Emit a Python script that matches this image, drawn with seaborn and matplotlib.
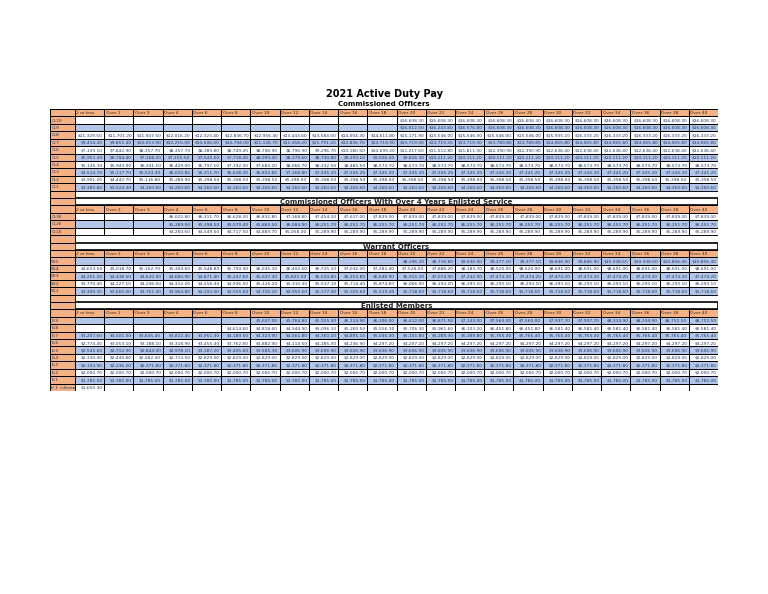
import numpy as np
import pandas as pd
import matplotlib
matplotlib.use("Agg")
import matplotlib.pyplot as plt
from matplotlib.colors import ListedColormap
from matplotlib.patches import Rectangle
import seaborn as sns

N = None
columns = ["2 or less", "Over 2", "Over 3", "Over 4", "Over 6", "Over 8", "Over 10", "Over 12",
           "Over 14", "Over 16", "Over 18", "Over 20", "Over 22", "Over 24", "Over 26", "Over 28",
           "Over 30", "Over 32", "Over 34", "Over 36", "Over 38", "Over 40"]

officer_grades = ["O-10", "O-9", "O-8", "O-7", "O-6", "O-5", "O-4", "O-3", "O-2", "O-1"]
officer_pay = [
    [N]*11 + [16608.30]*11,
    [N]*11 + [16012.50, 16243.80, 16576.80] + [16608.30]*8,
    [11329.50, 11701.20, 11947.50, 12016.20, 12323.40, 12836.70, 12956.40, 13443.60, 13584.00, 14004.30,
     14611.80, 15171.90, 15546.00, 15546.00, 15546.00, 15546.00, 15935.10] + [16333.20]*5,
    [9414.30, 9851.40, 10053.90, 10215.00, 10506.00, 10794.00, 11126.70, 11458.20, 11791.20, 12836.70]
    + [13719.30]*4 + [13789.80]*2 + [14065.80]*6,
    [7139.10, 7842.90, 8357.70, 8357.70, 8389.80, 8749.20, 8796.90, 8796.90, 9296.70, 10180.50, 10699.20,
     11217.60, 11512.80, 11811.90, 12390.90, 12390.90] + [12638.40]*6,
    [5951.40, 6704.40, 7168.20, 7255.50, 7545.60, 7718.40, 8099.40, 8379.60, 8740.80, 9293.10, 9556.20,
     9816.30] + [10111.20]*10,
    [5135.10, 5943.90, 6341.10, 6429.00, 6797.10, 7192.20, 7684.20, 8066.70, 8332.50, 8485.50] + [8573.70]*12,
    [4514.70, 5117.70, 5523.30, 6022.80, 6311.70, 6628.20, 6832.80, 7168.80] + [7345.20]*14,
    [3901.20, 4442.70, 5116.80, 5289.90] + [5398.50]*18,
    [3385.80, 3524.40] + [4260.60]*20,
]

prior_grades = ["O-3E", "O-2E", "O-1E"]
prior_pay = [
    [N]*3 + [6022.80, 6311.70, 6628.20, 6832.80, 7168.80, 7454.10, 7617.00] + [7839.00]*12,
    [N]*3 + [5289.90, 5398.50, 5570.40, 5860.50, 6084.90] + [6251.70]*14,
    [N]*3 + [4260.60, 4549.50, 4717.50, 4889.70, 5058.30] + [5289.90]*14,
]

warrant_grades = ["W-5", "W-4", "W-3", "W-2", "W-1"]
warrant_pay = [
    [N]*11 + [8296.20, 8716.80, 9030.90, 9377.10, 9377.10, 9846.90, 9846.90, 10338.60, 10338.60, 10856.40, 10856.40],
    [4653.50, 5018.70, 5162.70, 5304.60, 5548.80, 5790.30, 6035.10, 6402.60, 6725.10, 7032.00, 7283.40,
     7528.50, 7888.20, 8183.70, 8520.00, 8520.00] + [8691.00]*6,
    [4261.20, 4438.50, 4620.90, 4680.90, 4871.40, 5247.60, 5637.30, 5821.50, 6034.80, 6253.80, 6648.90,
     6915.30, 7074.90, 7242.90] + [7474.20]*8,
    [3770.40, 4127.10, 4236.60, 4312.20, 4556.40, 4936.50, 5125.20, 5310.30, 5537.10, 5714.40, 5874.60,
     6066.90, 6193.20] + [6293.10]*9,
    [3309.30, 3666.00, 3761.40, 3964.80, 4203.00, 4555.80, 4720.20, 4950.60, 5177.40, 5355.60, 5519.40]
    + [5718.60]*11,
]

enlisted_grades = ["E-9", "E-8", "E-7", "E-6", "E-5", "E-4", "E-3", "E-2", "E-1", "E-1 <4mon"]
enlisted_pay = [
    [N]*6 + [5637.00, 5764.80, 5925.90, 6114.90, 6306.00, 6612.00, 6871.50, 7143.00, 7560.00, 7560.00,
             7937.70, 7937.70, 8334.90, 8334.90, 8752.50, 8752.50],
    [N]*5 + [4614.60, 4818.60, 4944.90, 5096.10, 5260.50, 5556.30, 5706.30, 5961.60, 6103.20, 6451.80,
             6451.80] + [6581.40]*6,
    [3207.60, 3501.00, 3635.40, 3812.40, 3951.30, 4189.50, 4323.90, 4561.80, 4760.10, 4895.10, 5046.00,
     5101.80, 5289.30, 5389.80] + [5765.40]*8,
    [2774.40, 3053.10, 3188.10, 3318.90, 3455.40, 3762.60, 3882.90, 4114.50, 4185.30, 4236.90] + [4297.20]*12,
    [2541.60, 2712.90, 2844.00, 2978.10, 3187.20, 3405.60, 3585.30] + [3606.90]*15,
    [2330.40, 2449.80, 2582.40, 2713.50] + [2829.00]*18,
    [2103.90, 2236.20] + [2371.80]*20,
    [2000.70]*22,
    [1785.00]*22,
    [1650.30] + [N]*21,
]

sections = [
    (None, officer_grades, officer_pay),
    ("Commissioned Officers With Over 4 Years Enlisted Service", prior_grades, prior_pay),
    ("Warrant Officers", warrant_grades, warrant_pay),
    ("Enlisted Members", enlisted_grades, enlisted_pay),
]

# build row layout: kind in header / data / blank / title
rows = []
for i, (title, grades, pay) in enumerate(sections):
    if title is not None:
        rows.append(("blank", "", None))
        rows.append(("title", title, None))
    rows.append(("header", "", columns))
    for j, (g, vals) in enumerate(zip(grades, pay)):
        stripe = 1 if (j % 2 == 1) else 0
        if title == "Enlisted Members" or title == "Warrant Officers":
            stripe = 1 - stripe
        rows.append(("data", g, (vals, stripe)))

nr, nc = len(rows), len(columns)
codes = np.zeros((nr, nc))
for r, (kind, lab, payload) in enumerate(rows):
    if kind == "header":
        codes[r, :] = 2
    elif kind == "data":
        codes[r, :] = payload[1]

orange = "#f4b183"
blue = "#b4c6e7"
cmap = ListedColormap(["white", blue, orange])
text_col = "#1f3864"

fig = plt.figure(figsize=(7.68, 5.94), dpi=100)
y0, y1 = 1 - 391 / 594, 1 - 109 / 594
ax_lab = fig.add_axes([50 / 768, y0, 25 / 768, y1 - y0])
ax = fig.add_axes([75 / 768, y0, 643 / 768, y1 - y0])

sns.heatmap(np.full((nr, 1), 2.0), ax=ax_lab, cmap=cmap, vmin=0, vmax=2, cbar=False,
            linewidths=0.6, linecolor="black", xticklabels=False, yticklabels=False)
sns.heatmap(codes, ax=ax, cmap=cmap, vmin=0, vmax=2, cbar=False,
            linewidths=0.6, linecolor="black", xticklabels=False, yticklabels=False)

fs = 3.2
for r, (kind, lab, payload) in enumerate(rows):
    if kind == "data":
        ax_lab.text(0.05, r + 0.55, lab, fontsize=fs, va="center", ha="left", color=text_col)
        for c, v in enumerate(payload[0]):
            if v is not None:
                ax.text(c + 0.95, r + 0.55, f"${v:,.2f}", fontsize=fs, va="center", ha="right", color=text_col)
    elif kind == "header":
        for c, h in enumerate(payload):
            ax.text(c + 0.05, r + 0.55, h, fontsize=fs, va="center", ha="left", color="#3b2a1a")
    else:
        lw = 1.2 if kind == "title" else 0.6
        ax.add_patch(Rectangle((0, r), nc, 1, facecolor="white", edgecolor="black", lw=lw, zorder=3))
        if kind == "title":
            ax.text(nc / 2, r + 0.55, lab, fontsize=5, fontweight="bold", ha="center", va="center",
                    color="#222222", zorder=4)

fig.text(0.5, 1 - 94 / 594, "2021 Active Duty Pay", ha="center", va="center", fontsize=7, fontweight="bold")
fig.text(0.5, 1 - 104 / 594, "Commissioned Officers", ha="center", va="center", fontsize=5, fontweight="bold")

fig.savefig("out.png", dpi=100)
